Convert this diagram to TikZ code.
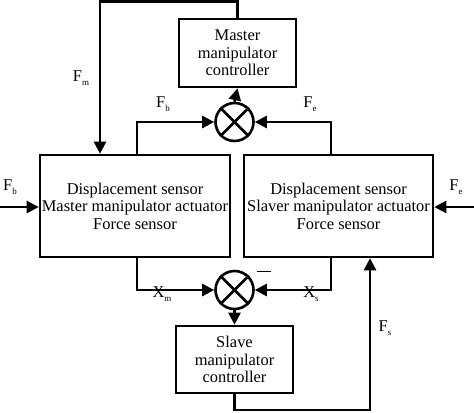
\documentclass[tikz,border=0pt]{standalone}
\usepackage{fontspec}
\setmainfont{Liberation Serif}
\usetikzlibrary{arrows.meta}
\newcommand{\sbs}[1]{\raisebox{-0.45ex}{\fontsize{9}{9}\selectfont #1}}
\begin{document}
\begin{tikzpicture}[x=1bp,y=-1bp,
  line width=2.6bp,
  arr/.style={-{Triangle[length=12bp,width=12bp]}},
  blk/.style={draw,line width=2.6bp,inner sep=0pt,align=center,font=\fontsize{16.5}{17.5}\selectfont},
  sumj/.style={draw,line width=2.6bp,circle,minimum size=38bp,inner sep=0pt},
  lbl/.style={font=\fontsize{16.5}{16.5}\selectfont,inner sep=0pt}]
\useasboundingbox (0,0) rectangle (474,412);
\node[blk,minimum width=117bp,minimum height=68bp] (mc) at (237.5,53) {Master\\manipulator\\controller};
\node[blk,minimum width=117bp,minimum height=67bp] (sc) at (234.5,359.5) {Slave\\manipulator\\controller};
\node[blk,minimum width=190bp,minimum height=102bp] (lb) at (135,206) {Displacement sensor\\Master manipulator actuator\\Force sensor};
\node[blk,minimum width=189bp,minimum height=102bp] (rb) at (338.5,206) {Displacement sensor\\Slaver manipulator actuator\\Force sensor};
\node[sumj] (s1) at (234.5,122) {};
\draw (s1.north west) -- (s1.south east) (s1.north east) -- (s1.south west);
\node[sumj] (s2) at (234.5,290) {};
\draw (s2.north west) -- (s2.south east) (s2.north east) -- (s2.south west);
\coordinate (inl) at (0,207);
\coordinate (inr) at (474,207);
% Fm loop
\coordinate (t1) at (100,1.5);
\draw[arr] (mc.north) |- (t1) -- (t1 |- lb.north);
% top junction
\draw[arr] (s1.north) -- (mc.south);
\coordinate (fbc) at (137,124);
\draw[arr] (fbc |- lb.north) |- (s1.west);
\coordinate (fec) at (331,124);
\draw[arr] (fec |- rb.north) |- (s1.east);
% inputs
\draw[arr] (inl) -- (inl -| lb.west);
\draw[arr] (inr) -- (inr -| rb.east);
% bottom junction
\draw[arr] (fbc |- lb.south) |- (s2.west);
\draw[arr] (fec |- rb.south) |- (s2.east);
\draw[arr] (s2.south) -- (sc.north);
\coordinate (b1) at (370,410);
\draw[arr] (sc.south) |- (b1) -- (b1 |- rb.south);
% labels
\node[lbl] (lfm) at (81,78) {F\sbs{m}};
\node[lbl] (lfb1) at (163,104) {F\sbs{b}};
\node[lbl] (lfe1) at (310,104) {F\sbs{e}};
\node[lbl] (lfb2) at (10,187) {F\sbs{b}};
\node[lbl] (lfe2) at (456,187) {F\sbs{e}};
\node[lbl] (lxm) at (162,294) {X\sbs{m}};
\node[lbl] (lxs) at (311,294) {X\sbs{s}};
\node[lbl] (lfs) at (385,328) {F\sbs{s}};
\node[lbl] (minus) at (264,271) {\rule{14bp}{1bp}};
\end{tikzpicture}
\end{document}
